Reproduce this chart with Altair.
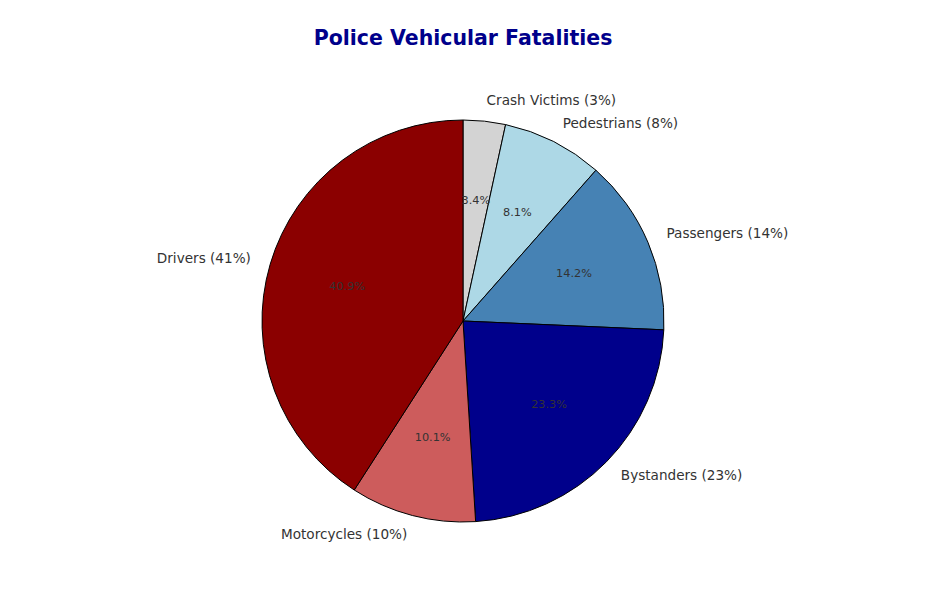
import altair as alt
import pandas as pd

categories = ["Crash Victims", "Pedestrians", "Passengers", "Bystanders", "Motorcycles", "Drivers"]
values = [3.4, 8.1, 14.2, 23.3, 10.1, 40.9]
colors = ["#d3d3d3", "#add8e6", "#4682b4", "#00008b", "#cd5c5c", "#8b0000"]
sides = ["right", "right", "right", "right", "left", "left"]

df = pd.DataFrame({
    "category": categories,
    "value": values,
    "order": list(range(len(categories))),
    "side": sides,
})
df["label"] = [f"{c} ({round(v):.0f}%)" for c, v in zip(categories, values)]
df["pct"] = [f"{v:.1f}%" for v in values]

R = 201
FONT = "DejaVu Sans"

base = alt.Chart(df).encode(
    theta=alt.Theta("value:Q", stack=True),
    order=alt.Order("order:Q", sort="ascending"),
)

arcs = base.mark_arc(outerRadius=R, stroke="black", strokeWidth=1).encode(
    color=alt.Color("category:N", scale=alt.Scale(domain=categories, range=colors), legend=None)
)

pct = base.mark_text(radius=R * 0.6, fontSize=11.3, font=FONT, color="#333333").encode(
    text="pct:N"
)

lab_right = base.mark_text(radius=R * 1.1, fontSize=13.6, font=FONT, color="#333333", align="left", baseline="middle").encode(
    text=alt.condition("datum.side == 'right'", "label:N", alt.value(""))
)
lab_left = base.mark_text(radius=R * 1.1, fontSize=13.6, font=FONT, color="#333333", align="right", baseline="middle").encode(
    text=alt.condition("datum.side == 'left'", "label:N", alt.value(""))
)

chart = alt.layer(arcs, pct, lab_right, lab_left).properties(
    width=910,
    height=500,
    padding={"top": 20, "left": 0, "right": 0, "bottom": 0},
    title=alt.TitleParams(
        "Police Vehicular Fatalities",
        font=FONT,
        fontSize=20.5,
        fontWeight="bold",
        color="#00008b",
        anchor="middle",
        offset=22,
    ),
).configure_view(stroke=None).configure(background="white")

chart.save("out.html", embed_options={"renderer": "svg", "actions": False})
